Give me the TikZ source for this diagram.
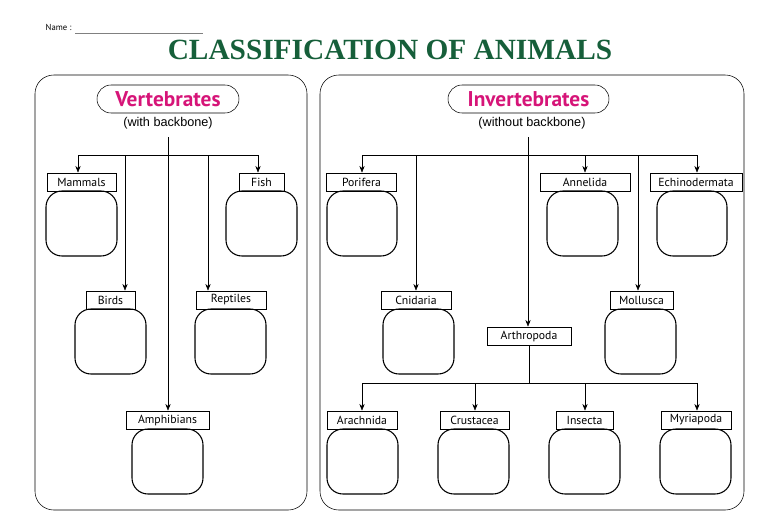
\documentclass[tikz,border=0pt]{standalone}
\usetikzlibrary{arrows.meta}
\usepackage{fontspec}
\setmainfont{Liberation Sans}
\newfontfamily\lblfont{PT Sans}
\newfontfamily\ttlfont{Liberation Serif}
\definecolor{ttlgreen}{RGB}{22,95,58}
\definecolor{hpink}{RGB}{214,20,120}
\begin{document}
\begin{tikzpicture}[x=0.75pt,y=-0.75pt,
  lbl/.style={draw,semithick,fill=white,inner sep=0pt,minimum height=13.5pt,font=\lblfont\fontsize{8.8}{9}\selectfont},
  slot/.style={draw,thick,rounded corners=12pt},
  panel/.style={draw,thin,rounded corners=14pt},
  head/.style={draw,thin,rounded corners=10.5pt,minimum height=21pt,inner sep=0pt,font=\lblfont\bfseries\fontsize{16}{17}\selectfont,text=hpink},
  arr/.style={-{Stealth[length=5pt,width=4pt]},thin},
  ln/.style={thin}]
\useasboundingbox (0,0) rectangle (768,532);
\node[anchor=west,font=\lblfont\fontsize{6.5}{7}\selectfont] (nm) at (41,27) {Name :};
\draw[thin,gray] (75,33) -- (203,33);
\node[font=\ttlfont\bfseries\fontsize{22}{23}\selectfont,text=ttlgreen] (title) at (390,50) {CLASSIFICATION OF ANIMALS};
\draw[panel] (35,75) rectangle (307,510);
\draw[panel] (320,75) rectangle (744,510);
% Vertebrates
\node[head,minimum width=106.5pt] (vh) at (168,99) {Vertebrates};
\node[font=\fontsize{9.5}{10}\selectfont] (vs) at (168,123) {(with backbone)};
\node[lbl,minimum width=51.75pt] (mam) at (81.5,182) {Mammals};
\node[lbl,minimum width=33.75pt] (fish) at (261.5,182) {Fish};
\node[lbl,minimum width=36.75pt] (bird) at (110.5,300) {Birds};
\node[lbl,minimum width=52.5pt] (rep) at (231,300) {Reptiles};
\node[lbl,minimum width=62.25pt] (amp) at (167.5,420) {Amphibians};
\coordinate (vtop) at (168,137);
\draw[arr] (vtop) -- (amp.north -| vtop);
\draw[ln] (78,155) -- (258,155);
\draw[arr] (78,155) -- (mam.north -| 78,0);
\draw[arr] (258,155) -- (fish.north -| 258,0);
\draw[arr] (125,155) -- (bird.north -| 125,0);
\draw[arr] (208,155) -- (rep.north -| 208,0);
\foreach \a/\b/\c/\d in {46/191/117/256,226/191/297/256,75/309/146/374,195/309/266/374,132/429/203/494}
  \draw[slot] (\a,\b) rectangle (\c,\d);
% Invertebrates
\node[head,minimum width=120.75pt] (ih) at (528.5,99) {Invertebrates};
\node[font=\fontsize{9.5}{10}\selectfont] (is) at (532,123) {(without backbone)};
\node[lbl,minimum width=52.5pt] (por) at (361.5,182) {Porifera};
\node[lbl,minimum width=67.5pt] (ann) at (585,182) {Annelida};
\node[lbl,minimum width=69pt] (ech) at (696,182) {Echinodermata};
\node[lbl,minimum width=52.5pt] (cni) at (416,300) {Cnidaria};
\node[lbl,minimum width=47.25pt] (mol) at (641.5,300) {Mollusca};
\node[lbl,minimum width=63pt] (art) at (529,336) {Arthropoda};
\node[lbl,minimum width=52.5pt] (ara) at (362,420) {Arachnida};
\node[lbl,minimum width=51.75pt] (cru) at (474.5,420) {Crustacea};
\node[lbl,minimum width=42.75pt] (ins) at (584.5,420) {Insecta};
\node[lbl,minimum width=52.5pt] (myr) at (696,420) {Myriapoda};
\coordinate (itop) at (528,137);
\draw[arr] (itop) -- (art.north -| itop);
\draw[ln] (362,155) -- (697,155);
\draw[arr] (362,155) -- (por.north -| 362,0);
\draw[arr] (585,155) -- (ann.north -| 585,0);
\draw[arr] (697,155) -- (ech.north -| 697,0);
\draw[arr] (416,155) -- (cni.north -| 416,0);
\draw[arr] (638,155) -- (mol.north -| 638,0);
\coordinate (hb) at (art.south |- 0,383);
\draw[ln] (art.south) -- (hb);
\draw[ln] (362,383) -- (697,383);
\draw[arr] (362,383) -- (ara.north -| 362,0);
\draw[arr] (475,383) -- (cru.north -| 475,0);
\draw[arr] (585,383) -- (ins.north -| 585,0);
\draw[arr] (697,383) -- (myr.north -| 697,0);
\foreach \a/\b/\c/\d in {327/191/397/256,547/191/618/256,657/191/727/256,383/309/454/374,605/309/676/374,327/429/398/494,438/429/509/494,549/429/620/494,660/429/731/494}
  \draw[slot] (\a,\b) rectangle (\c,\d);
\end{tikzpicture}
\end{document}
